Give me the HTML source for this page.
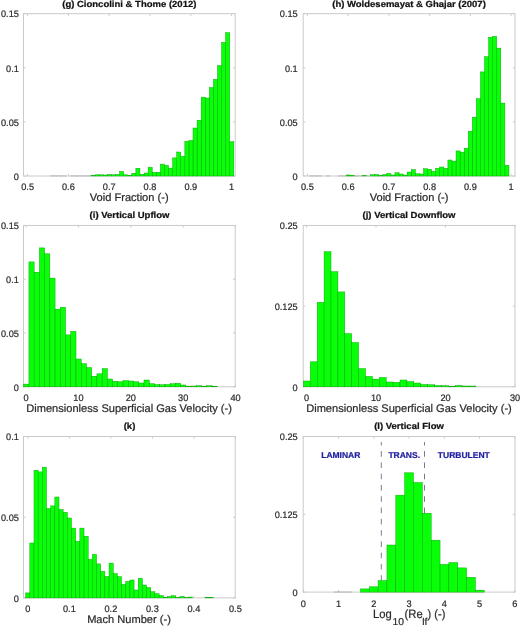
<!DOCTYPE html>
<html><head><meta charset="utf-8"><title>Histograms</title>
<style>
html,body{margin:0;padding:0;background:#fff;}
svg{display:block;font-family:"Liberation Sans",Arial,sans-serif;text-rendering:geometricPrecision;filter:blur(0.4px);}
text{stroke-width:0.22px;paint-order:stroke;}
.bars .z{stroke:#999;stroke-width:0.6;fill:none}
.bars rect{fill:#08ff08;stroke:#00a200;stroke-width:0.44;}
</style></head><body>
<svg width="520" height="626" viewBox="0 0 520 626">
<rect width="520" height="626" fill="#fff"/>
<rect x="23.5" y="13.7" width="211.70" height="162.30" fill="none" stroke="#cacaca" stroke-width="1"/>
<rect x="303.2" y="13.7" width="211.80" height="162.30" fill="none" stroke="#cacaca" stroke-width="1"/>
<rect x="23.5" y="225.45" width="211.70" height="161.35" fill="none" stroke="#cacaca" stroke-width="1"/>
<rect x="303.2" y="225.45" width="211.80" height="161.35" fill="none" stroke="#cacaca" stroke-width="1"/>
<rect x="23.5" y="436.5" width="211.70" height="161.40" fill="none" stroke="#cacaca" stroke-width="1"/>
<rect x="303.2" y="436.5" width="211.80" height="155.60" fill="none" stroke="#cacaca" stroke-width="1"/>
<path d="M27.60 176.0v-2.2M27.60 13.7v2.2" stroke="#cacaca" stroke-width="1" fill="none"/>
<text transform="translate(27.60,190.40) scale(0.975,1)" font-size="9.45" text-anchor="middle" fill="#2b2b2b" stroke="#2b2b2b">0.5</text>
<path d="M68.40 176.0v-2.2M68.40 13.7v2.2" stroke="#cacaca" stroke-width="1" fill="none"/>
<text transform="translate(68.40,190.40) scale(0.975,1)" font-size="9.45" text-anchor="middle" fill="#2b2b2b" stroke="#2b2b2b">0.6</text>
<path d="M109.20 176.0v-2.2M109.20 13.7v2.2" stroke="#cacaca" stroke-width="1" fill="none"/>
<text transform="translate(109.20,190.40) scale(0.975,1)" font-size="9.45" text-anchor="middle" fill="#2b2b2b" stroke="#2b2b2b">0.7</text>
<path d="M150.00 176.0v-2.2M150.00 13.7v2.2" stroke="#cacaca" stroke-width="1" fill="none"/>
<text transform="translate(150.00,190.40) scale(0.975,1)" font-size="9.45" text-anchor="middle" fill="#2b2b2b" stroke="#2b2b2b">0.8</text>
<path d="M190.80 176.0v-2.2M190.80 13.7v2.2" stroke="#cacaca" stroke-width="1" fill="none"/>
<text transform="translate(190.80,190.40) scale(0.975,1)" font-size="9.45" text-anchor="middle" fill="#2b2b2b" stroke="#2b2b2b">0.9</text>
<path d="M231.60 176.0v-2.2M231.60 13.7v2.2" stroke="#cacaca" stroke-width="1" fill="none"/>
<text transform="translate(231.60,190.40) scale(0.975,1)" font-size="9.45" text-anchor="middle" fill="#2b2b2b" stroke="#2b2b2b">1</text>
<path d="M307.40 176.0v-2.2M307.40 13.7v2.2" stroke="#cacaca" stroke-width="1" fill="none"/>
<text transform="translate(307.40,190.40) scale(0.975,1)" font-size="9.45" text-anchor="middle" fill="#2b2b2b" stroke="#2b2b2b">0.5</text>
<path d="M348.15 176.0v-2.2M348.15 13.7v2.2" stroke="#cacaca" stroke-width="1" fill="none"/>
<text transform="translate(348.15,190.40) scale(0.975,1)" font-size="9.45" text-anchor="middle" fill="#2b2b2b" stroke="#2b2b2b">0.6</text>
<path d="M388.90 176.0v-2.2M388.90 13.7v2.2" stroke="#cacaca" stroke-width="1" fill="none"/>
<text transform="translate(388.90,190.40) scale(0.975,1)" font-size="9.45" text-anchor="middle" fill="#2b2b2b" stroke="#2b2b2b">0.7</text>
<path d="M429.65 176.0v-2.2M429.65 13.7v2.2" stroke="#cacaca" stroke-width="1" fill="none"/>
<text transform="translate(429.65,190.40) scale(0.975,1)" font-size="9.45" text-anchor="middle" fill="#2b2b2b" stroke="#2b2b2b">0.8</text>
<path d="M470.40 176.0v-2.2M470.40 13.7v2.2" stroke="#cacaca" stroke-width="1" fill="none"/>
<text transform="translate(470.40,190.40) scale(0.975,1)" font-size="9.45" text-anchor="middle" fill="#2b2b2b" stroke="#2b2b2b">0.9</text>
<path d="M511.15 176.0v-2.2M511.15 13.7v2.2" stroke="#cacaca" stroke-width="1" fill="none"/>
<text transform="translate(511.15,190.40) scale(0.975,1)" font-size="9.45" text-anchor="middle" fill="#2b2b2b" stroke="#2b2b2b">1</text>
<path d="M23.5 176.00h2.2M235.2 176.00h-2.2" stroke="#cacaca" stroke-width="1" fill="none"/>
<text transform="translate(18.90,179.70) scale(0.975,1)" font-size="9.45" text-anchor="end" fill="#2b2b2b" stroke="#2b2b2b">0</text>
<path d="M23.5 121.90h2.2M235.2 121.90h-2.2" stroke="#cacaca" stroke-width="1" fill="none"/>
<text transform="translate(18.90,125.60) scale(0.975,1)" font-size="9.45" text-anchor="end" fill="#2b2b2b" stroke="#2b2b2b">0.05</text>
<path d="M23.5 67.80h2.2M235.2 67.80h-2.2" stroke="#cacaca" stroke-width="1" fill="none"/>
<text transform="translate(18.90,71.50) scale(0.975,1)" font-size="9.45" text-anchor="end" fill="#2b2b2b" stroke="#2b2b2b">0.1</text>
<path d="M23.5 13.70h2.2M235.2 13.70h-2.2" stroke="#cacaca" stroke-width="1" fill="none"/>
<text transform="translate(18.90,17.40) scale(0.975,1)" font-size="9.45" text-anchor="end" fill="#2b2b2b" stroke="#2b2b2b">0.15</text>
<path d="M303.2 176.00h2.2M515.0 176.00h-2.2" stroke="#cacaca" stroke-width="1" fill="none"/>
<text transform="translate(297.70,179.70) scale(0.975,1)" font-size="9.45" text-anchor="end" fill="#2b2b2b" stroke="#2b2b2b">0</text>
<path d="M303.2 121.90h2.2M515.0 121.90h-2.2" stroke="#cacaca" stroke-width="1" fill="none"/>
<text transform="translate(297.70,125.60) scale(0.975,1)" font-size="9.45" text-anchor="end" fill="#2b2b2b" stroke="#2b2b2b">0.05</text>
<path d="M303.2 67.80h2.2M515.0 67.80h-2.2" stroke="#cacaca" stroke-width="1" fill="none"/>
<text transform="translate(297.70,71.50) scale(0.975,1)" font-size="9.45" text-anchor="end" fill="#2b2b2b" stroke="#2b2b2b">0.1</text>
<path d="M303.2 13.70h2.2M515.0 13.70h-2.2" stroke="#cacaca" stroke-width="1" fill="none"/>
<text transform="translate(297.70,17.40) scale(0.975,1)" font-size="9.45" text-anchor="end" fill="#2b2b2b" stroke="#2b2b2b">0.15</text>
<path d="M26.00 386.8v-2.2M26.00 225.45v2.2" stroke="#cacaca" stroke-width="1" fill="none"/>
<text transform="translate(26.00,401.20) scale(0.975,1)" font-size="9.45" text-anchor="middle" fill="#2b2b2b" stroke="#2b2b2b">0</text>
<path d="M78.40 386.8v-2.2M78.40 225.45v2.2" stroke="#cacaca" stroke-width="1" fill="none"/>
<text transform="translate(78.40,401.20) scale(0.975,1)" font-size="9.45" text-anchor="middle" fill="#2b2b2b" stroke="#2b2b2b">10</text>
<path d="M130.80 386.8v-2.2M130.80 225.45v2.2" stroke="#cacaca" stroke-width="1" fill="none"/>
<text transform="translate(130.80,401.20) scale(0.975,1)" font-size="9.45" text-anchor="middle" fill="#2b2b2b" stroke="#2b2b2b">20</text>
<path d="M183.20 386.8v-2.2M183.20 225.45v2.2" stroke="#cacaca" stroke-width="1" fill="none"/>
<text transform="translate(183.20,401.20) scale(0.975,1)" font-size="9.45" text-anchor="middle" fill="#2b2b2b" stroke="#2b2b2b">30</text>
<path d="M235.60 386.8v-2.2M235.60 225.45v2.2" stroke="#cacaca" stroke-width="1" fill="none"/>
<text transform="translate(235.60,401.20) scale(0.975,1)" font-size="9.45" text-anchor="middle" fill="#2b2b2b" stroke="#2b2b2b">40</text>
<path d="M306.50 386.8v-2.2M306.50 225.45v2.2" stroke="#cacaca" stroke-width="1" fill="none"/>
<text transform="translate(306.50,401.20) scale(0.975,1)" font-size="9.45" text-anchor="middle" fill="#2b2b2b" stroke="#2b2b2b">0</text>
<path d="M376.00 386.8v-2.2M376.00 225.45v2.2" stroke="#cacaca" stroke-width="1" fill="none"/>
<text transform="translate(376.00,401.20) scale(0.975,1)" font-size="9.45" text-anchor="middle" fill="#2b2b2b" stroke="#2b2b2b">10</text>
<path d="M445.50 386.8v-2.2M445.50 225.45v2.2" stroke="#cacaca" stroke-width="1" fill="none"/>
<text transform="translate(445.50,401.20) scale(0.975,1)" font-size="9.45" text-anchor="middle" fill="#2b2b2b" stroke="#2b2b2b">20</text>
<path d="M515.00 386.8v-2.2M515.00 225.45v2.2" stroke="#cacaca" stroke-width="1" fill="none"/>
<text transform="translate(515.00,401.20) scale(0.975,1)" font-size="9.45" text-anchor="middle" fill="#2b2b2b" stroke="#2b2b2b">30</text>
<path d="M23.5 386.80h2.2M235.2 386.80h-2.2" stroke="#cacaca" stroke-width="1" fill="none"/>
<text transform="translate(18.90,390.50) scale(0.975,1)" font-size="9.45" text-anchor="end" fill="#2b2b2b" stroke="#2b2b2b">0</text>
<path d="M23.5 333.02h2.2M235.2 333.02h-2.2" stroke="#cacaca" stroke-width="1" fill="none"/>
<text transform="translate(18.90,336.72) scale(0.975,1)" font-size="9.45" text-anchor="end" fill="#2b2b2b" stroke="#2b2b2b">0.05</text>
<path d="M23.5 279.23h2.2M235.2 279.23h-2.2" stroke="#cacaca" stroke-width="1" fill="none"/>
<text transform="translate(18.90,282.93) scale(0.975,1)" font-size="9.45" text-anchor="end" fill="#2b2b2b" stroke="#2b2b2b">0.1</text>
<path d="M23.5 225.45h2.2M235.2 225.45h-2.2" stroke="#cacaca" stroke-width="1" fill="none"/>
<text transform="translate(18.90,229.15) scale(0.975,1)" font-size="9.45" text-anchor="end" fill="#2b2b2b" stroke="#2b2b2b">0.15</text>
<path d="M303.2 386.80h2.2M515.0 386.80h-2.2" stroke="#cacaca" stroke-width="1" fill="none"/>
<text transform="translate(297.70,390.50) scale(0.975,1)" font-size="9.45" text-anchor="end" fill="#2b2b2b" stroke="#2b2b2b">0</text>
<path d="M303.2 306.12h2.2M515.0 306.12h-2.2" stroke="#cacaca" stroke-width="1" fill="none"/>
<text transform="translate(297.70,309.82) scale(0.975,1)" font-size="9.45" text-anchor="end" fill="#2b2b2b" stroke="#2b2b2b">0.125</text>
<path d="M303.2 225.45h2.2M515.0 225.45h-2.2" stroke="#cacaca" stroke-width="1" fill="none"/>
<text transform="translate(297.70,229.15) scale(0.975,1)" font-size="9.45" text-anchor="end" fill="#2b2b2b" stroke="#2b2b2b">0.25</text>
<path d="M27.90 597.9v-2.2M27.90 436.5v2.2" stroke="#cacaca" stroke-width="1" fill="none"/>
<text transform="translate(27.90,612.30) scale(0.975,1)" font-size="9.45" text-anchor="middle" fill="#2b2b2b" stroke="#2b2b2b">0</text>
<path d="M69.40 597.9v-2.2M69.40 436.5v2.2" stroke="#cacaca" stroke-width="1" fill="none"/>
<text transform="translate(69.40,612.30) scale(0.975,1)" font-size="9.45" text-anchor="middle" fill="#2b2b2b" stroke="#2b2b2b">0.1</text>
<path d="M110.90 597.9v-2.2M110.90 436.5v2.2" stroke="#cacaca" stroke-width="1" fill="none"/>
<text transform="translate(110.90,612.30) scale(0.975,1)" font-size="9.45" text-anchor="middle" fill="#2b2b2b" stroke="#2b2b2b">0.2</text>
<path d="M152.40 597.9v-2.2M152.40 436.5v2.2" stroke="#cacaca" stroke-width="1" fill="none"/>
<text transform="translate(152.40,612.30) scale(0.975,1)" font-size="9.45" text-anchor="middle" fill="#2b2b2b" stroke="#2b2b2b">0.3</text>
<path d="M193.90 597.9v-2.2M193.90 436.5v2.2" stroke="#cacaca" stroke-width="1" fill="none"/>
<text transform="translate(193.90,612.30) scale(0.975,1)" font-size="9.45" text-anchor="middle" fill="#2b2b2b" stroke="#2b2b2b">0.4</text>
<path d="M235.40 597.9v-2.2M235.40 436.5v2.2" stroke="#cacaca" stroke-width="1" fill="none"/>
<text transform="translate(235.40,612.30) scale(0.975,1)" font-size="9.45" text-anchor="middle" fill="#2b2b2b" stroke="#2b2b2b">0.5</text>
<path d="M303.30 592.1v-2.2M303.30 436.5v2.2" stroke="#cacaca" stroke-width="1" fill="none"/>
<text transform="translate(303.30,606.50) scale(0.975,1)" font-size="9.45" text-anchor="middle" fill="#2b2b2b" stroke="#2b2b2b">0</text>
<path d="M338.55 592.1v-2.2M338.55 436.5v2.2" stroke="#cacaca" stroke-width="1" fill="none"/>
<text transform="translate(338.55,606.50) scale(0.975,1)" font-size="9.45" text-anchor="middle" fill="#2b2b2b" stroke="#2b2b2b">1</text>
<path d="M373.80 592.1v-2.2M373.80 436.5v2.2" stroke="#cacaca" stroke-width="1" fill="none"/>
<text transform="translate(373.80,606.50) scale(0.975,1)" font-size="9.45" text-anchor="middle" fill="#2b2b2b" stroke="#2b2b2b">2</text>
<path d="M409.05 592.1v-2.2M409.05 436.5v2.2" stroke="#cacaca" stroke-width="1" fill="none"/>
<text transform="translate(409.05,606.50) scale(0.975,1)" font-size="9.45" text-anchor="middle" fill="#2b2b2b" stroke="#2b2b2b">3</text>
<path d="M444.30 592.1v-2.2M444.30 436.5v2.2" stroke="#cacaca" stroke-width="1" fill="none"/>
<text transform="translate(444.30,606.50) scale(0.975,1)" font-size="9.45" text-anchor="middle" fill="#2b2b2b" stroke="#2b2b2b">4</text>
<path d="M479.55 592.1v-2.2M479.55 436.5v2.2" stroke="#cacaca" stroke-width="1" fill="none"/>
<text transform="translate(479.55,606.50) scale(0.975,1)" font-size="9.45" text-anchor="middle" fill="#2b2b2b" stroke="#2b2b2b">5</text>
<path d="M514.80 592.1v-2.2M514.80 436.5v2.2" stroke="#cacaca" stroke-width="1" fill="none"/>
<text transform="translate(514.80,606.50) scale(0.975,1)" font-size="9.45" text-anchor="middle" fill="#2b2b2b" stroke="#2b2b2b">6</text>
<path d="M23.5 597.90h2.2M235.2 597.90h-2.2" stroke="#cacaca" stroke-width="1" fill="none"/>
<text transform="translate(18.90,601.60) scale(0.975,1)" font-size="9.45" text-anchor="end" fill="#2b2b2b" stroke="#2b2b2b">0</text>
<path d="M23.5 517.20h2.2M235.2 517.20h-2.2" stroke="#cacaca" stroke-width="1" fill="none"/>
<text transform="translate(18.90,520.90) scale(0.975,1)" font-size="9.45" text-anchor="end" fill="#2b2b2b" stroke="#2b2b2b">0.05</text>
<path d="M23.5 436.50h2.2M235.2 436.50h-2.2" stroke="#cacaca" stroke-width="1" fill="none"/>
<text transform="translate(18.90,440.20) scale(0.975,1)" font-size="9.45" text-anchor="end" fill="#2b2b2b" stroke="#2b2b2b">0.1</text>
<path d="M303.2 592.10h2.2M515.0 592.10h-2.2" stroke="#cacaca" stroke-width="1" fill="none"/>
<text transform="translate(297.70,595.80) scale(0.975,1)" font-size="9.45" text-anchor="end" fill="#2b2b2b" stroke="#2b2b2b">0</text>
<path d="M303.2 514.30h2.2M515.0 514.30h-2.2" stroke="#cacaca" stroke-width="1" fill="none"/>
<text transform="translate(297.70,518.00) scale(0.975,1)" font-size="9.45" text-anchor="end" fill="#2b2b2b" stroke="#2b2b2b">0.125</text>
<path d="M303.2 436.50h2.2M515.0 436.50h-2.2" stroke="#cacaca" stroke-width="1" fill="none"/>
<text transform="translate(297.70,440.20) scale(0.975,1)" font-size="9.45" text-anchor="end" fill="#2b2b2b" stroke="#2b2b2b">0.25</text>
<path d="M381.3 592.1V442.1" stroke="#7c7c96" stroke-width="1" stroke-dasharray="5.6 5.68" fill="none"/>
<path d="M424.5 592.1V442.1" stroke="#787890" stroke-width="1" stroke-dasharray="5.6 5.68" fill="none"/>
<g class="bars">
<rect x="229.72" y="141.70" width="4.08" height="34.30"/>
<rect x="225.64" y="32.70" width="4.08" height="143.30"/>
<rect x="221.56" y="42.40" width="4.08" height="133.60"/>
<rect x="217.48" y="65.60" width="4.08" height="110.40"/>
<rect x="213.40" y="79.30" width="4.08" height="96.70"/>
<rect x="209.32" y="87.50" width="4.08" height="88.50"/>
<rect x="205.24" y="98.00" width="4.08" height="78.00"/>
<rect x="201.16" y="97.20" width="4.08" height="78.80"/>
<rect x="197.08" y="120.20" width="4.08" height="55.80"/>
<rect x="193.00" y="128.00" width="4.08" height="48.00"/>
<rect x="188.92" y="140.40" width="4.08" height="35.60"/>
<rect x="184.84" y="141.30" width="4.08" height="34.70"/>
<rect x="180.76" y="156.40" width="4.08" height="19.60"/>
<rect x="176.68" y="152.00" width="4.08" height="24.00"/>
<rect x="172.60" y="157.90" width="4.08" height="18.10"/>
<rect x="168.52" y="168.10" width="4.08" height="7.90"/>
<rect x="164.44" y="165.40" width="4.08" height="10.60"/>
<rect x="160.36" y="164.10" width="4.08" height="11.90"/>
<rect x="156.28" y="172.20" width="4.08" height="3.80"/>
<rect x="152.20" y="172.30" width="4.08" height="3.70"/>
<rect x="148.12" y="167.30" width="4.08" height="8.70"/>
<rect x="144.04" y="173.00" width="4.08" height="3.00"/>
<rect x="139.96" y="174.25" width="4.08" height="1.75"/>
<rect x="135.88" y="168.25" width="4.08" height="7.75"/>
<rect x="131.80" y="173.25" width="4.08" height="2.75"/>
<rect x="127.72" y="175.30" width="4.08" height="0.70"/>
<rect x="123.64" y="174.80" width="4.08" height="1.20"/>
<rect x="119.56" y="171.50" width="4.08" height="4.50"/>
<rect x="115.48" y="174.50" width="4.08" height="1.50"/>
<rect x="111.40" y="174.80" width="4.08" height="1.20"/>
<rect x="107.32" y="174.50" width="4.08" height="1.50"/>
<rect x="103.24" y="175.00" width="4.08" height="1.00"/>
<rect x="99.16" y="174.80" width="4.08" height="1.20"/>
<rect x="95.08" y="174.80" width="4.08" height="1.20"/>
<rect x="91.00" y="175.30" width="4.08" height="0.70"/>
<path class="z" d="M86.92 175.90H91.00"/>
<path class="z" d="M82.84 175.90H86.92"/>
<path class="z" d="M78.76 175.90H82.84"/>
<path class="z" d="M74.68 175.90H78.76"/>
<path class="z" d="M70.60 175.90H74.68"/>
<path class="z" d="M62.44 175.90H66.52"/>
<path class="z" d="M58.36 175.90H62.44"/>
<path class="z" d="M54.28 175.90H58.36"/>
<path class="z" d="M50.20 175.90H54.28"/>
<rect x="504.88" y="165.30" width="4.07" height="10.70"/>
<rect x="500.81" y="103.10" width="4.07" height="72.90"/>
<rect x="496.74" y="48.10" width="4.07" height="127.90"/>
<rect x="492.67" y="36.40" width="4.07" height="139.60"/>
<rect x="488.60" y="37.20" width="4.07" height="138.80"/>
<rect x="484.53" y="56.70" width="4.07" height="119.30"/>
<rect x="480.46" y="71.90" width="4.07" height="104.10"/>
<rect x="476.39" y="98.70" width="4.07" height="77.30"/>
<rect x="472.32" y="117.10" width="4.07" height="58.90"/>
<rect x="468.25" y="131.20" width="4.07" height="44.80"/>
<rect x="464.18" y="148.20" width="4.07" height="27.80"/>
<rect x="460.11" y="152.10" width="4.07" height="23.90"/>
<rect x="456.04" y="150.90" width="4.07" height="25.10"/>
<rect x="451.97" y="161.10" width="4.07" height="14.90"/>
<rect x="447.90" y="160.00" width="4.07" height="16.00"/>
<rect x="443.83" y="168.30" width="4.07" height="7.70"/>
<rect x="439.76" y="167.00" width="4.07" height="9.00"/>
<rect x="435.69" y="168.30" width="4.07" height="7.70"/>
<rect x="431.62" y="171.40" width="4.07" height="4.60"/>
<rect x="427.55" y="169.30" width="4.07" height="6.70"/>
<rect x="423.48" y="168.75" width="4.07" height="7.25"/>
<rect x="419.41" y="174.00" width="4.07" height="2.00"/>
<rect x="415.34" y="173.75" width="4.07" height="2.25"/>
<rect x="411.27" y="169.50" width="4.07" height="6.50"/>
<rect x="407.20" y="172.00" width="4.07" height="4.00"/>
<rect x="403.13" y="175.00" width="4.07" height="1.00"/>
<rect x="399.06" y="174.00" width="4.07" height="2.00"/>
<rect x="394.99" y="172.75" width="4.07" height="3.25"/>
<rect x="390.92" y="175.00" width="4.07" height="1.00"/>
<rect x="386.85" y="173.50" width="4.07" height="2.50"/>
<rect x="382.78" y="174.50" width="4.07" height="1.50"/>
<rect x="378.71" y="175.30" width="4.07" height="0.70"/>
<rect x="374.64" y="174.50" width="4.07" height="1.50"/>
<rect x="370.57" y="174.75" width="4.07" height="1.25"/>
<path class="z" d="M366.50 175.90H370.57"/>
<rect x="362.43" y="175.40" width="4.07" height="0.60"/>
<path class="z" d="M358.36 175.90H362.43"/>
<path class="z" d="M354.29 175.90H358.36"/>
<rect x="350.22" y="175.40" width="4.07" height="0.60"/>
<rect x="346.15" y="175.00" width="4.07" height="1.00"/>
<path class="z" d="M342.08 175.90H346.15"/>
<path class="z" d="M338.01 175.90H342.08"/>
<path class="z" d="M325.80 175.90H329.87"/>
<path class="z" d="M317.66 175.90H321.73"/>
<path class="z" d="M313.59 175.90H317.66"/>
<path class="z" d="M309.52 175.90H313.59"/>
<rect x="23.70" y="384.10" width="5.23" height="2.70"/>
<rect x="28.93" y="261.90" width="5.23" height="124.90"/>
<rect x="34.16" y="272.20" width="5.23" height="114.60"/>
<rect x="39.39" y="247.90" width="5.23" height="138.90"/>
<rect x="44.62" y="253.80" width="5.23" height="133.00"/>
<rect x="49.85" y="278.10" width="5.23" height="108.70"/>
<rect x="55.08" y="309.20" width="5.23" height="77.60"/>
<rect x="60.31" y="307.20" width="5.23" height="79.60"/>
<rect x="65.54" y="334.90" width="5.23" height="51.90"/>
<rect x="70.77" y="331.40" width="5.23" height="55.40"/>
<rect x="76.00" y="359.00" width="5.23" height="27.80"/>
<rect x="81.23" y="363.70" width="5.23" height="23.10"/>
<rect x="86.46" y="367.50" width="5.23" height="19.30"/>
<rect x="91.69" y="376.20" width="5.23" height="10.60"/>
<rect x="96.92" y="373.80" width="5.23" height="13.00"/>
<rect x="102.15" y="368.60" width="5.23" height="18.20"/>
<rect x="107.38" y="379.00" width="5.23" height="7.80"/>
<rect x="112.61" y="381.30" width="5.23" height="5.50"/>
<rect x="117.84" y="381.75" width="5.23" height="5.05"/>
<rect x="123.07" y="380.60" width="5.23" height="6.20"/>
<rect x="128.30" y="381.00" width="5.23" height="5.80"/>
<rect x="133.53" y="381.75" width="5.23" height="5.05"/>
<rect x="138.76" y="383.00" width="5.23" height="3.80"/>
<rect x="143.99" y="380.00" width="5.23" height="6.80"/>
<rect x="149.22" y="383.75" width="5.23" height="3.05"/>
<rect x="154.45" y="384.50" width="5.23" height="2.30"/>
<rect x="159.68" y="384.75" width="5.23" height="2.05"/>
<rect x="164.91" y="384.50" width="5.23" height="2.30"/>
<rect x="170.14" y="383.75" width="5.23" height="3.05"/>
<rect x="175.37" y="383.25" width="5.23" height="3.55"/>
<rect x="180.60" y="385.00" width="5.23" height="1.80"/>
<rect x="185.83" y="386.20" width="5.23" height="0.60"/>
<rect x="191.06" y="386.00" width="5.23" height="0.80"/>
<rect x="196.29" y="385.75" width="5.23" height="1.05"/>
<rect x="201.52" y="386.20" width="5.23" height="0.60"/>
<rect x="206.75" y="385.75" width="5.23" height="1.05"/>
<rect x="211.98" y="386.20" width="5.23" height="0.60"/>
<rect x="303.40" y="381.00" width="6.90" height="5.80"/>
<rect x="310.30" y="361.80" width="6.90" height="25.00"/>
<rect x="317.20" y="302.30" width="6.90" height="84.50"/>
<rect x="324.10" y="251.70" width="6.90" height="135.10"/>
<rect x="331.00" y="271.70" width="6.90" height="115.10"/>
<rect x="337.90" y="291.90" width="6.90" height="94.90"/>
<rect x="344.80" y="333.60" width="6.90" height="53.20"/>
<rect x="351.70" y="342.50" width="6.90" height="44.30"/>
<rect x="358.60" y="368.60" width="6.90" height="18.20"/>
<rect x="365.50" y="376.40" width="6.90" height="10.40"/>
<rect x="372.40" y="379.10" width="6.90" height="7.70"/>
<rect x="379.30" y="377.50" width="6.90" height="9.30"/>
<rect x="386.20" y="382.00" width="6.90" height="4.80"/>
<rect x="393.10" y="382.30" width="6.90" height="4.50"/>
<rect x="400.00" y="380.00" width="6.90" height="6.80"/>
<rect x="406.90" y="381.50" width="6.90" height="5.30"/>
<rect x="413.80" y="383.00" width="6.90" height="3.80"/>
<rect x="420.70" y="384.50" width="6.90" height="2.30"/>
<rect x="427.60" y="384.75" width="6.90" height="2.05"/>
<rect x="434.50" y="385.50" width="6.90" height="1.30"/>
<rect x="441.40" y="385.75" width="6.90" height="1.05"/>
<rect x="448.30" y="386.20" width="6.90" height="0.60"/>
<rect x="455.20" y="385.50" width="6.90" height="1.30"/>
<rect x="462.10" y="386.00" width="6.90" height="0.80"/>
<rect x="469.00" y="386.00" width="6.90" height="0.80"/>
<rect x="25.65" y="592.90" width="4.17" height="5.00"/>
<rect x="29.82" y="543.00" width="4.17" height="54.90"/>
<rect x="33.99" y="470.20" width="4.17" height="127.70"/>
<rect x="38.16" y="471.90" width="4.17" height="126.00"/>
<rect x="42.33" y="467.30" width="4.17" height="130.60"/>
<rect x="46.50" y="508.50" width="4.17" height="89.40"/>
<rect x="50.67" y="505.90" width="4.17" height="92.00"/>
<rect x="54.84" y="497.00" width="4.17" height="100.90"/>
<rect x="59.01" y="509.50" width="4.17" height="88.40"/>
<rect x="63.18" y="512.30" width="4.17" height="85.60"/>
<rect x="67.35" y="518.00" width="4.17" height="79.90"/>
<rect x="71.52" y="528.10" width="4.17" height="69.80"/>
<rect x="75.69" y="541.50" width="4.17" height="56.40"/>
<rect x="79.86" y="528.10" width="4.17" height="69.80"/>
<rect x="84.03" y="536.30" width="4.17" height="61.60"/>
<rect x="88.20" y="559.40" width="4.17" height="38.50"/>
<rect x="92.37" y="554.40" width="4.17" height="43.50"/>
<rect x="96.54" y="563.90" width="4.17" height="34.00"/>
<rect x="100.71" y="571.40" width="4.17" height="26.50"/>
<rect x="104.88" y="576.50" width="4.17" height="21.40"/>
<rect x="109.05" y="563.10" width="4.17" height="34.80"/>
<rect x="113.22" y="573.60" width="4.17" height="24.30"/>
<rect x="117.39" y="576.70" width="4.17" height="21.20"/>
<rect x="121.56" y="584.40" width="4.17" height="13.50"/>
<rect x="125.73" y="581.50" width="4.17" height="16.40"/>
<rect x="129.90" y="580.00" width="4.17" height="17.90"/>
<rect x="134.07" y="590.00" width="4.17" height="7.90"/>
<rect x="138.24" y="578.25" width="4.17" height="19.65"/>
<rect x="142.41" y="585.00" width="4.17" height="12.90"/>
<rect x="146.58" y="587.50" width="4.17" height="10.40"/>
<rect x="150.75" y="591.75" width="4.17" height="6.15"/>
<rect x="154.92" y="593.75" width="4.17" height="4.15"/>
<rect x="159.09" y="595.50" width="4.17" height="2.40"/>
<rect x="163.26" y="597.25" width="4.17" height="0.65"/>
<rect x="167.43" y="596.50" width="4.17" height="1.40"/>
<rect x="171.60" y="595.75" width="4.17" height="2.15"/>
<rect x="175.77" y="597.60" width="4.17" height="0.30"/>
<rect x="179.94" y="596.50" width="4.17" height="1.40"/>
<rect x="184.11" y="597.60" width="4.17" height="0.30"/>
<rect x="188.28" y="597.00" width="4.17" height="0.90"/>
<rect x="204.96" y="597.25" width="4.17" height="0.65"/>
<rect x="209.13" y="597.50" width="4.17" height="0.40"/>
<rect x="360.40" y="588.90" width="8.85" height="3.20"/>
<rect x="369.25" y="586.80" width="8.85" height="5.30"/>
<rect x="378.10" y="580.60" width="8.85" height="11.50"/>
<rect x="386.95" y="545.00" width="8.85" height="47.10"/>
<rect x="395.80" y="495.20" width="8.85" height="96.90"/>
<rect x="404.65" y="472.80" width="8.85" height="119.30"/>
<rect x="413.50" y="482.50" width="8.85" height="109.60"/>
<rect x="422.35" y="513.20" width="8.85" height="78.90"/>
<rect x="431.20" y="540.20" width="8.85" height="51.90"/>
<rect x="440.05" y="564.40" width="8.85" height="27.70"/>
<rect x="448.90" y="562.50" width="8.85" height="29.60"/>
<rect x="457.75" y="567.90" width="8.85" height="24.20"/>
<rect x="466.60" y="577.30" width="8.85" height="14.80"/>
<rect x="475.45" y="590.20" width="8.85" height="1.90"/>
<path class="z" d="M333.85 592.00H342.70"/>
<path class="z" d="M342.70 592.00H351.55"/>
</g>
<text transform="translate(129.3,7.0) scale(1.075,1)" font-size="8.85" text-anchor="middle" font-weight="bold" fill="#111" stroke="#111">(g) Cioncolini &amp; Thome (2012)</text>
<text transform="translate(409,7.0) scale(1.075,1)" font-size="8.85" text-anchor="middle" font-weight="bold" fill="#111" stroke="#111">(h) Woldesemayat &amp; Ghajar (2007)</text>
<text transform="translate(129.5,218.0) scale(1.075,1)" font-size="8.85" text-anchor="middle" font-weight="bold" fill="#111" stroke="#111">(i) Vertical Upflow</text>
<text transform="translate(409,218.0) scale(1.075,1)" font-size="8.85" text-anchor="middle" font-weight="bold" fill="#111" stroke="#111">(j) Vertical Downflow</text>
<text transform="translate(129.5,429.3) scale(1.075,1)" font-size="8.85" text-anchor="middle" font-weight="bold" fill="#111" stroke="#111">(k)</text>
<text transform="translate(409,429.3) scale(1.075,1)" font-size="8.85" text-anchor="middle" font-weight="bold" fill="#111" stroke="#111">(l) Vertical Flow</text>
<text x="129.2" y="201.0" font-size="11.08" text-anchor="middle" font-weight="normal" fill="#2b2b2b" stroke="#2b2b2b" >Void Fraction (-)</text>
<text x="409.1" y="201.0" font-size="11.08" text-anchor="middle" font-weight="normal" fill="#2b2b2b" stroke="#2b2b2b" >Void Fraction (-)</text>
<text x="129.1" y="412.2" font-size="11.08" text-anchor="middle" font-weight="normal" fill="#2b2b2b" stroke="#2b2b2b" >Dimensionless Superficial Gas Velocity (-)</text>
<text x="409" y="412.2" font-size="11.08" text-anchor="middle" font-weight="normal" fill="#2b2b2b" stroke="#2b2b2b" >Dimensionless Superficial Gas Velocity (-)</text>
<text x="129" y="623" font-size="11.08" text-anchor="middle" font-weight="normal" fill="#2b2b2b" stroke="#2b2b2b" >Mach Number (-)</text>
<text transform="translate(372.9,617.8) scale(0.93,1)" font-size="12.1" fill="#2b2b2b" stroke="#2b2b2b">Log</text>
<text transform="translate(392.6,624.8) scale(1.03,1)" font-size="10.0" fill="#2b2b2b" stroke="#2b2b2b">10</text>
<text transform="translate(404.6,617.8) scale(0.93,1)" font-size="12.1" fill="#2b2b2b" stroke="#2b2b2b">(Re</text>
<text transform="translate(422.2,624.6) scale(1.03,1)" font-size="10.0" fill="#2b2b2b" stroke="#2b2b2b">lf</text>
<text transform="translate(427.6,617.8) scale(0.91,1)" font-size="12.1" fill="#2b2b2b" stroke="#2b2b2b">) (-)</text>
<text x="340.8" y="458.3" font-size="8.5" text-anchor="middle" font-weight="bold" fill="#2020a0" stroke="#2020a0" >LAMINAR</text>
<text x="404.2" y="458.3" font-size="8.5" text-anchor="middle" font-weight="bold" fill="#2020a0" stroke="#2020a0" >TRANS.</text>
<text x="463.8" y="458.3" font-size="8.5" text-anchor="middle" font-weight="bold" fill="#2020a0" stroke="#2020a0" >TURBULENT</text>
</svg>
</body></html>
